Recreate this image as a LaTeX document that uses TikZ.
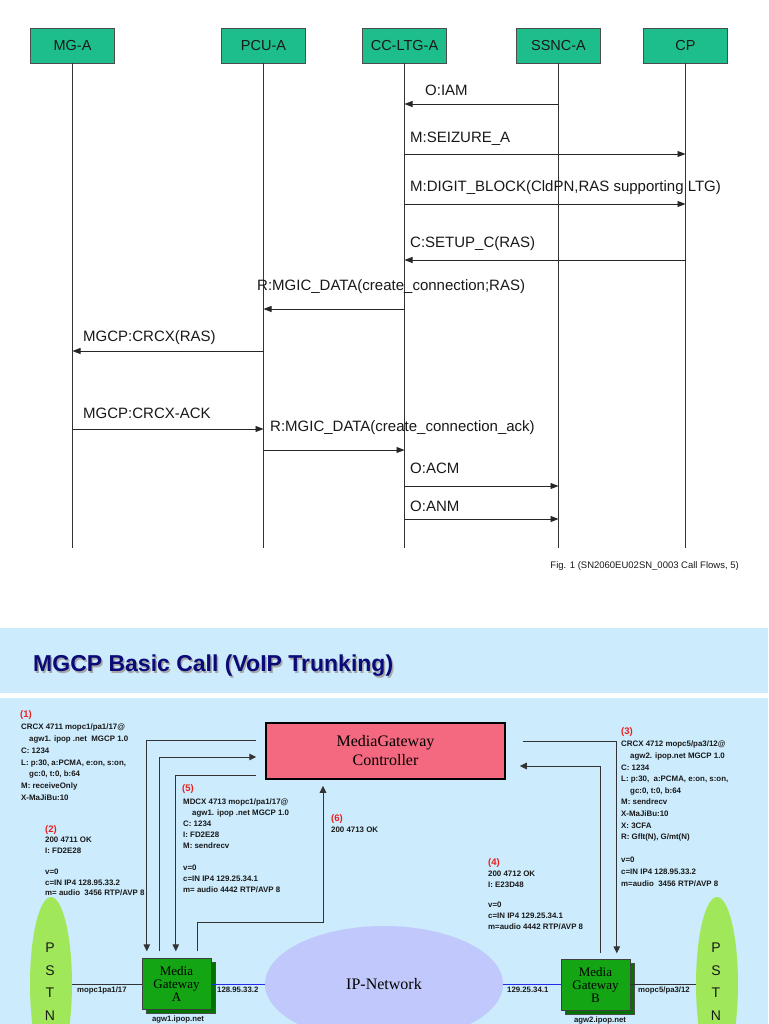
\documentclass[tikz,border=0pt]{standalone}
\usepackage{fontspec}
\setmainfont{Liberation Sans}
\newfontfamily\serifrm{Liberation Serif}
\usetikzlibrary{arrows.meta,shapes.geometric,shadows,calc}
\definecolor{hdrgreen}{RGB}{30,190,140}
\definecolor{lightbg}{RGB}{204,235,252}
\definecolor{titlenavy}{RGB}{10,10,120}
\definecolor{ctrlpink}{RGB}{244,104,128}
\definecolor{mggreen}{RGB}{20,165,20}
\definecolor{mgshadow}{RGB}{0,115,0}
\definecolor{pstngreen}{RGB}{160,232,90}
\definecolor{ipblue}{RGB}{192,200,252}
\definecolor{numred}{RGB}{235,30,30}
\definecolor{linkblue}{RGB}{40,40,230}
\begin{document}
\begin{tikzpicture}[x=1pt,y=-1pt,
  hdr/.style={draw=black!70, fill=hdrgreen, minimum width=84pt, minimum height=35pt, inner sep=0, text=black!90, font=\fontsize{14.5}{17}\selectfont},
  life/.style={draw=black!80, line width=0.8pt},
  msg/.style={draw=black!85, line width=0.9pt, -{Triangle[length=8pt,width=6pt]}},
  lbl/.style={font=\fontsize{15}{17}\selectfont, text=black!90, anchor=west, inner sep=0},
  blk/.style={font=\fontsize{7.9}{#1}\selectfont\bfseries, align=left, anchor=north west, inner sep=0, text=black!90},
  num/.style={font=\fontsize{9.5}{11}\selectfont\bfseries, text=numred, anchor=west, inner sep=0},
  small/.style={font=\fontsize{7.8}{9}\selectfont\bfseries, inner sep=0, text=black!90},
  mgbox/.style={draw=black!75, fill=mggreen, minimum width=69pt, minimum height=51pt, inner sep=0, align=center,
    font=\serifrm\fontsize{13}{13}\selectfont,
    general shadow={fill=mgshadow, draw=black!70, shadow xshift=4pt, shadow yshift=-4pt}},
  pstn/.style={ellipse, fill=pstngreen, minimum width=42pt, minimum height=174pt, inner sep=0},
  pstntext/.style={align=center, inner sep=0, font=\fontsize{14}{22.5}\selectfont, text=black!90},
  conn/.style={draw=black!80, line width=1pt},
  arr/.style={conn, -{Triangle[length=7pt,width=6.5pt]}},
  bluel/.style={draw=linkblue, line width=1pt},
]
\useasboundingbox (0,0) rectangle (768,1024);
\fill[white] (0,0) rectangle (768,1024);

% ---------- sequence diagram ----------
\node[hdr] (mga) at (72.5,45.5) {MG-A};
\node[hdr] (pcua) at (263.5,45.5) {PCU-A};
\node[hdr] (ccltg) at (404.5,45.5) {CC-LTG-A};
\node[hdr] (ssnc) at (558.5,45.5) {SSNC-A};
\node[hdr] (cp) at (685.5,45.5) {CP};

\foreach \n in {mga,pcua,ccltg,ssnc,cp}
  \draw[life] (\n.south) -- (\n.south |- 0,548);

\draw[msg] (ssnc.south |- 0,104) -- (ccltg.south |- 0,104);
\node[lbl] (m1) at (425,90) {O:IAM};
\draw[msg] (ccltg.south |- 0,154) -- (cp.south |- 0,154);
\node[lbl] (m2) at (410,139) {M:SEIZURE\_A};
\draw[msg] (ccltg.south |- 0,204) -- (cp.south |- 0,204);
\node[lbl] (m3) at (410,188) {M:DIGIT\_BLOCK(CldPN,RAS supporting LTG)};
\draw[msg] (cp.south |- 0,260) -- (ccltg.south |- 0,260);
\node[lbl] (m4) at (410,244) {C:SETUP\_C(RAS)};
\draw[msg] (ccltg.south |- 0,309) -- (pcua.south |- 0,309);
\node[lbl] (m5) at (257,287) {R:MGIC\_DATA(create\_connection;RAS)};
\draw[msg] (pcua.south |- 0,351) -- (mga.south |- 0,351);
\node[lbl] (m6) at (83,338) {MGCP:CRCX(RAS)};
\draw[msg] (mga.south |- 0,429) -- (pcua.south |- 0,429);
\node[lbl] (m7) at (83,413) {MGCP:CRCX-ACK};
\draw[msg] (pcua.south |- 0,450) -- (ccltg.south |- 0,450);
\node[lbl] (m8) at (270,428) {R:MGIC\_DATA(create\_connection\_ack)};
\draw[msg] (ccltg.south |- 0,486) -- (ssnc.south |- 0,486);
\node[lbl] (m9) at (410,468) {O:ACM};
\draw[msg] (ccltg.south |- 0,519) -- (ssnc.south |- 0,519);
\node[lbl] (m10) at (410,506) {O:ANM};

\node[font=\fontsize{9.5}{11}\selectfont, anchor=east, inner sep=0, text=black!90] (cap) at (739,566)
  {Fig. 1 (SN2060EU02SN\_0003 Call Flows, 5)};

% ---------- lower slide ----------
\fill[lightbg] (0,628) rectangle (768,693);
\fill[lightbg] (0,698) rectangle (768,1024);
\node[anchor=west, inner sep=0, font=\fontsize{23}{27}\selectfont\bfseries, text=black!35] (titlesh) at (34.5,667.5)
  {MGCP Basic Call (VoIP Trunking)};
\node[anchor=west, inner sep=0, font=\fontsize{23}{27}\selectfont\bfseries, text=titlenavy] (title) at (33,666)
  {MGCP Basic Call (VoIP Trunking)};

\node[draw=black, line width=1.5pt, fill=ctrlpink, minimum width=239pt, minimum height=56pt, inner sep=0,
  align=center, font=\serifrm\fontsize{16}{19}\selectfont] (mgc) at (385.5,751) {MediaGateway\\Controller};

\node[ellipse, fill=ipblue, minimum width=238pt, minimum height=116pt, inner sep=0,
  font=\serifrm\fontsize{16}{19}\selectfont] (ipn) at (384,984) {IP-Network};

\node[pstn] (pstnl) at (51,984) {};
\node[pstntext] (pstnlt) at (50,981.5) {P\\S\\T\\N};
\node[pstn] (pstnr) at (717,984) {};
\node[pstntext] (pstnrt) at (716,981.5) {P\\S\\T\\N};

\node[mgbox] (mgwa) at (176.5,984) {Media\\Gateway\\A};
\node[mgbox] (mgwb) at (595.5,985) {Media\\Gateway\\B};

\node[small] (agw1) at (178,1019) {agw1.ipop.net};
\node[small] (agw2) at (600,1020) {agw2.ipop.net};

% horizontal links
\draw[conn] (pstnl.east) -- (mgwa.west);
\draw[bluel] (mgwa.east) -- (ipn.west);
\draw[bluel] (ipn.east) -- (ipn.east -| mgwb.west);
\draw[conn] (mgwb.east |- pstnr.west) -- (pstnr.west);
\node[small, anchor=west] (la) at (77,990) {mopc1pa1/17};
\node[small, anchor=west] (lb) at (217,990) {128.95.33.2};
\node[small, anchor=west] (lc) at (507,990) {129.25.34.1};
\node[small, anchor=west] (ld) at (638,990) {mopc5/pa3/12};

% signalling connectors
\draw[arr] ($(mgc.west |- 0,740)+(-9,0)$) -| ($(mgwa.north west)+(5,-7)$);
\draw[arr] ($(mgwa.north west)+(18,-7)$) |- ($(mgc.west |- 0,757)+(-9,0)$);
\draw[arr] ($(mgc.west |- 0,775)+(-9,0)$) -| ($(mgwa.north west)+(34,-7)$);
\draw[arr] ($(mgwa.north west)+(56,-7)$) -- ++(0,-29) -| ($(mgc.south)+(-62.5,6)$);
\draw[arr] ($(mgc.east |- 0,741)+(17,0)$) -| ($(mgwb.north west)+(56,-6)$);
\draw[arr] ($(mgwb.north west)+(40,-6)$) |- ($(mgc.east |- 0,766)+(14,0)$);

% message texts
\node[num] (n1) at (20,715) {(1)};
\node[blk=11.7] (b1) at (21,724) {CRCX 4711 mopc1/pa1/17@\\
\hspace*{8pt}agw1. ipop .net\ \ MGCP 1.0\\
C: 1234\\
L: p:30, a:PCMA, e:on, s:on,\\
\hspace*{8pt}gc:0, t:0, b:64\\
M: receiveOnly\\
X-MaJiBu:10};

\node[num] (n2) at (45,830) {(2)};
\node[blk=10.6] (b2) at (45,837) {200 4711 OK\\
I: FD2E28\\[10.6pt]
v=0\\
c=IN IP4 128.95.33.2\\
m= audio\ \ 3456 RTP/AVP 8};

\node[num] (n5) at (182,789) {(5)};
\node[blk=11] (b5) at (183,799) {MDCX 4713 mopc1/pa1/17@\\
\hspace*{9pt}agw1. ipop .net MGCP 1.0\\
C: 1234\\
I: FD2E28\\
M: sendrecv\\[11pt]
v=0\\
c=IN IP4 129.25.34.1\\
m= audio 4442 RTP/AVP 8};

\node[num] (n6) at (331,819) {(6)};
\node[blk=11] (b6) at (331,827) {200 4713 OK};

\node[num] (n3) at (621,732) {(3)};
\node[blk=11.6] (b3) at (621,741) {CRCX 4712 mopc5/pa3/12@\\
\hspace*{9pt}agw2. ipop.net MGCP 1.0\\
C: 1234\\
L: p:30,\ \ a:PCMA, e:on, s:on,\\
\hspace*{9pt}gc:0, t:0, b:64\\
M: sendrecv\\
X-MaJiBu:10\\
X: 3CFA\\
R: Gflt(N), G/mt(N)\\[11.6pt]
v=0\\
c=IN IP4 128.95.33.2\\
m=audio\ \ 3456 RTP/AVP 8};

\node[num] (n4) at (488,863) {(4)};
\node[blk=10.6] (b4) at (488,871) {200 4712 OK\\
I: E23D48\\[10pt]
v=0\\
c=IN IP4 129.25.34.1\\
m=audio 4442 RTP/AVP 8};
\end{tikzpicture}
\end{document}
